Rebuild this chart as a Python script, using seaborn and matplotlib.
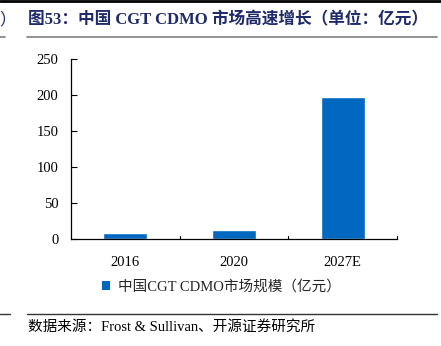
import matplotlib
matplotlib.use("Agg")
import matplotlib.pyplot as plt
import seaborn as sns
import pandas as pd
from matplotlib.lines import Line2D
from matplotlib.patches import Patch

categories = ["2016", "2020", "2027E"]
values = [8.5, 13, 197]
series_name = "中国CGT CDMO市场规模（亿元）"
title = "图53：中国 CGT CDMO 市场高速增长（单位：亿元）"
source = "数据来源：Frost & Sullivan、开源证券研究所"

sns.set_theme(style="white")
plt.rcParams['font.family'] = ['Liberation Serif', 'Noto Sans CJK SC']

W, H = 441, 346
fig = plt.figure(figsize=(W/100, H/100), dpi=100)
ax = fig.add_axes([71/W, 1-239/H, (397-71)/W, (239-59)/H])

df = pd.DataFrame({"year": categories, "value": values})
sns.barplot(data=df, x="year", y="value", color="#0068C0", width=0.405,
            saturation=1, ax=ax)

ax.set_ylim(0, 250)
ax.set_yticks([0, 50, 100, 150, 200, 250])
ax.set_xlim(-0.5, 2.5)
ax.set_xlabel("")
ax.set_ylabel("")
for s in ["top", "right"]:
    ax.spines[s].set_visible(False)
for s in ["left", "bottom"]:
    ax.spines[s].set_color("black")
    ax.spines[s].set_linewidth(0.9)
ax.tick_params(axis="y", direction="in", length=4, width=0.8, left=True,
               labelsize=10.5, pad=9, colors="black")
ax.tick_params(axis="x", bottom=False, labelsize=10.5, pad=6, colors="black")
for xb in [0.5, 1.5, 2.5]:
    ax.plot([xb, xb], [0, 4], color="black", lw=0.8, clip_on=False)

handles = [Patch(facecolor="#0068C0", edgecolor="none")]
fig.legend(handles, [series_name], loc="center", bbox_to_anchor=(221/W, 1-287/H),
           frameon=False, fontsize=10.5, handlelength=0.6, handleheight=0.6,
           handletextpad=0.5)

# decorative lines
fig.add_artist(Line2D([0, 1], [1-1/H, 1-1/H], color="black", lw=2))
fig.add_artist(Line2D([27/W, 437/W], [1-37/H, 1-37/H], color="#808080", lw=1.2))
fig.add_artist(Line2D([0, 5/W], [1-37/H, 1-37/H], color="#808080", lw=1.2))
fig.add_artist(Line2D([27/W, 437/W], [1-314/H, 1-314/H], color="#333333", lw=1.0))
fig.add_artist(Line2D([0, 10/W], [1-314/H, 1-314/H], color="#333333", lw=1.0))

fig.text(28/W, 1-20/H, title, fontsize=12, fontweight="bold", color="#1F2A6B",
         va="center", ha="left")
fig.text(-1/W, 1-20/H, "）", fontsize=12, color="#1F2A6B",
         va="center", ha="left")
fig.text(28/W, 1-327/H, source, fontsize=10.5, color="black", va="center", ha="left")

fig.savefig("out.png", dpi=100)
